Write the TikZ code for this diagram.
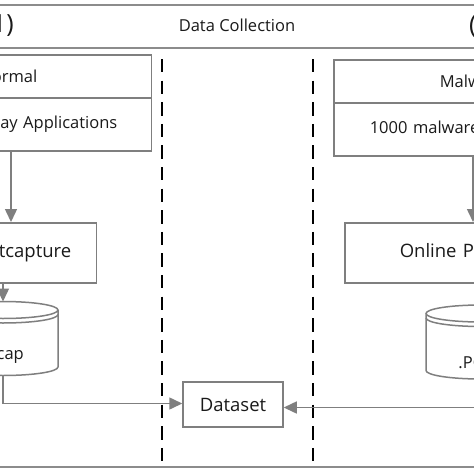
\documentclass[tikz,border=0pt]{standalone}
\usepackage{fontspec}
\setmainfont{Open Sans}
\usetikzlibrary{arrows.meta}
\definecolor{linegray}{HTML}{7F7F7F}
\definecolor{framegray}{HTML}{8C8C8C}
\definecolor{textblack}{HTML}{1A1A1A}
\newcommand*{\PcapDrum}[5]{% #1 = name, #2 = centre x, #3 = top centre y, #4 = label y, #5 = label
  \draw[drumline] (#2-55,#3) -- (#2-55,#3-57)
    arc[start angle=180, end angle=360, x radius=55, y radius=8.5] -- (#2+55,#3)
    arc[start angle=0, end angle=360, x radius=55, y radius=8.5];
  \draw[drumline, fill=none] (#2-55,#3-4.5)
    arc[start angle=180, end angle=360, x radius=55, y radius=8.5];
  \coordinate (#1-top) at (#2,#3+8.5);
  \coordinate (#1-bottom) at (#2,#3-65.5);
  \node[small] (#1-text) at (#2,#4) {#5};
}

\begin{document}
\begin{tikzpicture}[x=1pt, y=1pt,
    box/.style={draw=linegray, line width=1.5pt, fill=white, text=textblack, inner ysep=0pt},
    drumline/.style={draw=linegray, line width=1.5pt, fill=white},
    conn/.style={draw=linegray, line width=1.5pt, -{Triangle[length=13pt,width=12pt]}},
    frameline/.style={draw=framegray, line width=2pt},
    lane/.style={draw=black, line width=2pt, dash pattern=on 13.3pt off 8.3pt},
    small/.style={font=\fontsize{16.5}{19}\selectfont, text=textblack},
    large/.style={font=\fontsize{18.5}{22}\selectfont, text=textblack}]
  \useasboundingbox (0,0) rectangle (474,-474);
  \clip (0,0) rectangle (474,-474);
  \fill[white] (0,0) rectangle (474,-474);

  % frame and header
  \draw[frameline] (-20,-5) -- (494,-5);
  \draw[frameline] (-20,-48) -- (494,-48);
  \draw[frameline] (-20,-467) -- (494,-467);
  \node[small] (title) at (237,-25) {Data Collection};
  \node[font=\fontsize{25}{28}\selectfont, text=textblack, anchor=east, inner sep=0pt] (stepone) at (14,-26) {(1)};
  \node[font=\fontsize{25}{28}\selectfont, text=textblack, anchor=west, inner sep=0pt] (steptwo) at (469,-26) {(2)};

  % lanes
  \foreach \x in {162,313}
    \draw[lane] (\x,-59) -- (\x,-467);

  % normal traffic
  \node[box, small, anchor=north east, minimum height=43pt, text width=200pt, align=right, inner xsep=114pt] (normal) at (152,-54) {Normal};
  \node[box, small, anchor=north east, minimum height=53pt, text width=220pt, align=right, inner xsep=34pt] (everyday) at (152,-97) {Everyday Applications};
  \node[box, large, anchor=north east, minimum height=60pt, text width=150pt, align=right, inner xsep=25pt] (netcap) at (97,-222) {Netcapture};
  \PcapDrum{pcapL}{3}{-310}{-357}{.pcap}
  \coordinate (lefttap) at (11,0);
  \draw[conn] (everyday.south -| lefttap) -- (netcap.north -| lefttap);
  \draw[conn] (netcap.south -| pcapL-top) -- (pcapL-top);

  % malware traffic
  \node[box, small, anchor=north west, minimum height=43pt, text width=200pt, align=left, inner xsep=106pt] (malware) at (333,-59) {Malware};
  \node[box, small, anchor=north west, minimum height=53pt, text width=220pt, align=left, inner xsep=36pt] (samples) at (333,-102) {1000 malware samples};
  \node[box, large, anchor=north west, minimum height=60pt, text width=320pt, align=left, inner xsep=55pt] (online) at (344,-222) {Online PCAP Repository};
  \PcapDrum{pcapR}{481}{-313.5}{-363}{.PCAP}
  \coordinate (righttap) at (473,0);
  \draw[conn] (samples.south -| righttap) -- (online.north -| righttap);

  % dataset
  \node[box, large, minimum width=100pt, minimum height=45pt] (dataset) at (233,-404.5) {Dataset};
  \draw[conn] (pcapL-bottom) |- ([yshift=1pt]dataset.west);
  \draw[conn] (pcapR-bottom) |- ([yshift=-3pt]dataset.east);
\end{tikzpicture}
\end{document}
